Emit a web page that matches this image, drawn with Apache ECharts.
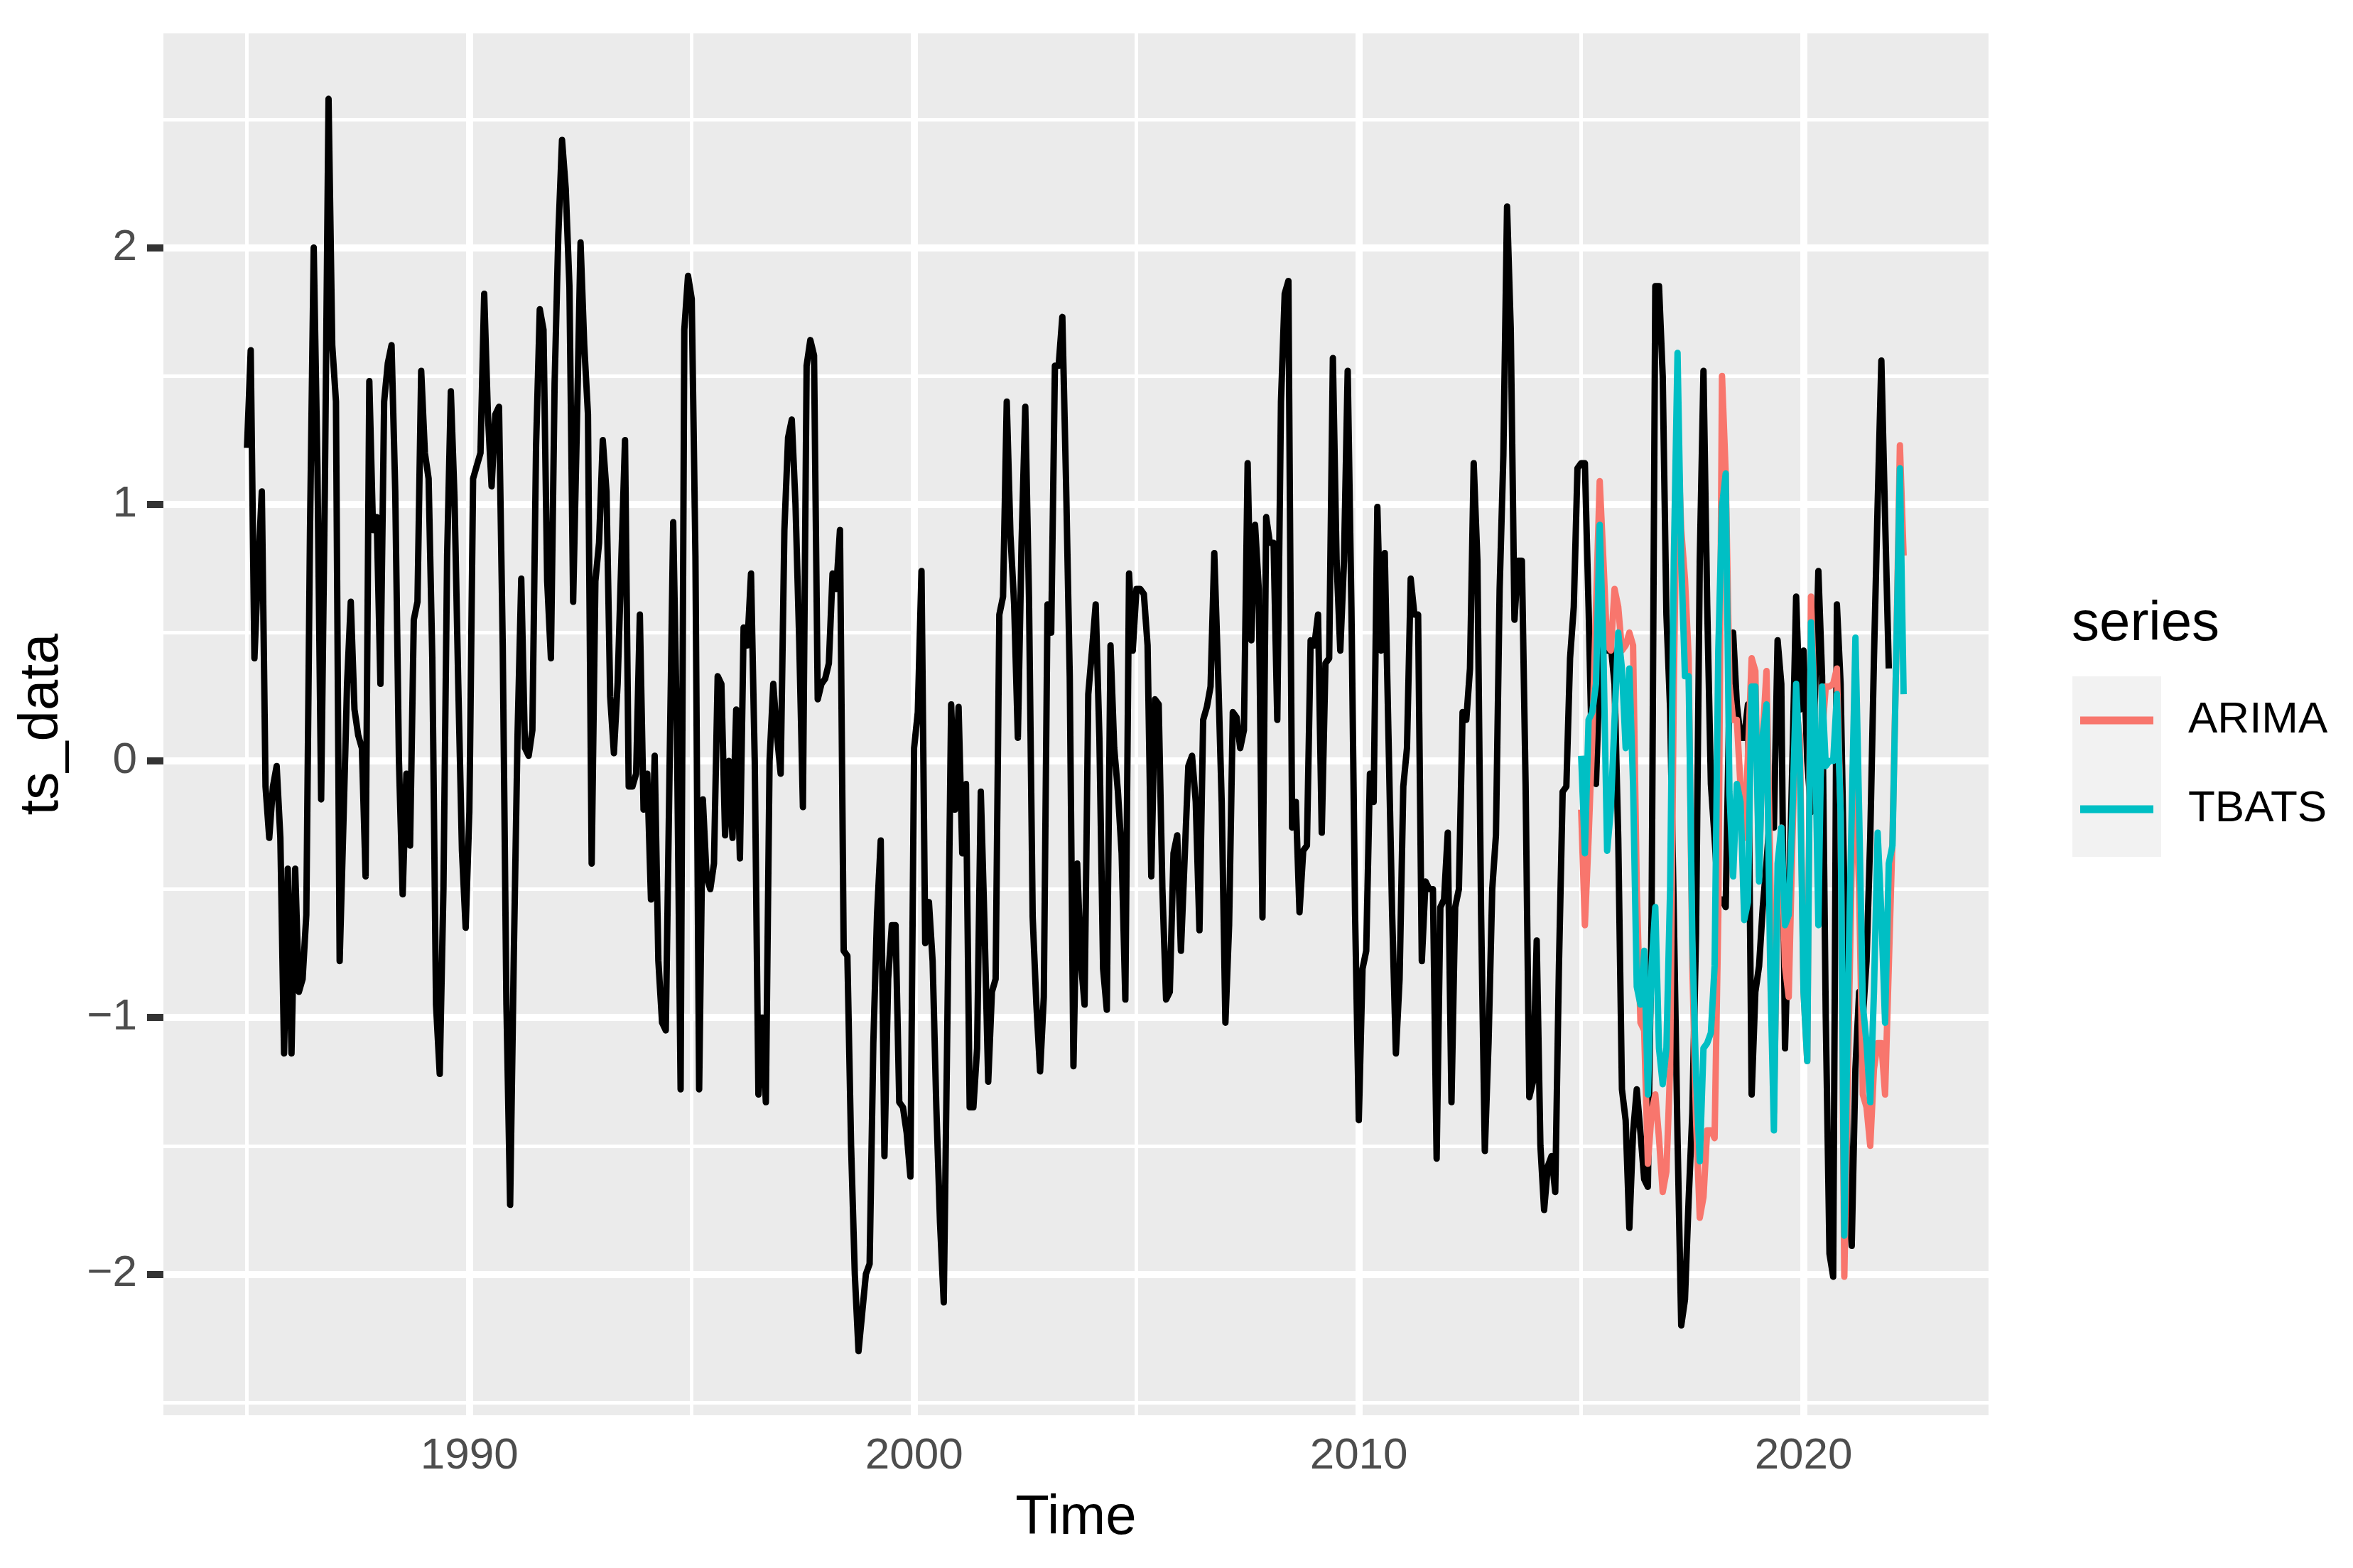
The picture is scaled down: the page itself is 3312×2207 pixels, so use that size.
<!DOCTYPE html>
<html><head><meta charset="utf-8">
<script src="https://cdn.jsdelivr.net/npm/echarts@6/dist/echarts.min.js"></script>
<style>html,body{margin:0;padding:0;background:#fff}#c{width:3312px;height:2207px}</style>
</head><body><div id="c"></div><script>
// Observed series (monthly), by 5-year block
const obs1985 = [1.22,1.60,0.40,0.75,1.05,-0.10,-0.30,-0.10,-0.02,-0.30,-1.14,-0.42,-1.14,-0.42,-0.90,-0.85,-0.60,0.90,2.00,1.15,-0.15,1.05,2.58,1.62,1.40,-0.78,-0.25,0.30,0.62,0.20,0.10,0.05,-0.45,1.48,0.90,0.95,0.30,1.40,1.55,1.62,1.05,0.00,-0.52,-0.05,-0.33,0.55,0.62,1.52,1.20,1.10,0.40,-0.95,-1.22,-0.50,0.80,1.44,1.02,0.30,-0.35,-0.65];
const obs1990 = [-0.20,1.10,1.15,1.20,1.82,1.35,1.07,1.35,1.38,0.45,-0.95,-1.73,-0.75,0.10,0.71,0.05,0.02,0.12,1.23,1.76,1.68,0.70,0.40,1.47,2.05,2.42,2.23,1.85,0.62,1.30,2.02,1.62,1.35,-0.40,0.70,0.85,1.25,1.05,0.25,0.03,0.30,0.78,1.25,-0.10,-0.10,-0.05,0.57,-0.19,-0.05,-0.54,0.02,-0.78,-1.02,-1.05,-0.05,0.93,0.12,-1.28,1.68,1.89];
const obs1995 = [1.80,0.80,-1.28,-0.15,-0.45,-0.50,-0.40,0.33,0.30,-0.29,0.00,-0.30,0.20,-0.38,0.52,0.45,0.73,0.00,-1.30,-1.00,-1.33,0.00,0.30,0.10,-0.05,0.90,1.26,1.33,1.00,0.47,-0.18,1.54,1.64,1.58,0.24,0.30,0.32,0.38,0.73,0.67,0.90,-0.74,-0.76,-1.50,-2.00,-2.30,-2.15,-2.00,-1.96,-1.10,-0.60,-0.31,-1.54,-0.85,-0.64,-0.64,-1.33,-1.35,-1.45,-1.62];
const obs2000 = [0.05,0.19,0.74,-0.71,-0.55,-0.78,-1.35,-1.80,-2.11,-1.00,0.22,-0.19,0.21,-0.36,-0.09,-1.35,-1.35,-1.12,-0.12,-0.64,-1.25,-0.90,-0.85,0.57,0.64,1.40,0.88,0.61,0.09,0.85,1.38,0.64,-0.61,-0.95,-1.21,-0.92,0.61,0.50,1.54,1.54,1.73,1.09,0.33,-1.19,-0.40,-0.78,-0.95,0.26,0.43,0.61,0.09,-0.81,-0.97,0.45,0.05,-0.12,-0.36,-0.93,0.73,0.43];
const obs2005 = [0.67,0.67,0.65,0.45,-0.45,0.24,0.22,-0.50,-0.93,-0.90,-0.36,-0.29,-0.74,-0.38,-0.02,0.02,-0.16,-0.66,0.16,0.21,0.29,0.81,0.36,-0.16,-1.02,-0.64,0.19,0.17,0.05,0.12,1.16,0.47,0.92,0.67,-0.61,0.95,0.85,0.85,0.16,1.40,1.82,1.87,-0.26,-0.16,-0.59,-0.35,-0.33,0.47,0.45,0.57,-0.28,0.38,0.40,1.57,0.78,0.43,0.78,1.52,0.60,-0.60];
const obs2010 = [-1.40,-0.81,-0.74,-0.05,-0.16,0.99,0.43,0.81,0.10,-0.60,-1.14,-0.85,-0.10,0.05,0.71,0.57,0.57,-0.78,-0.47,-0.50,-0.50,-1.55,-0.57,-0.54,-0.28,-1.33,-0.57,-0.50,0.19,0.16,0.36,1.16,0.78,-0.60,-1.52,-1.10,-0.50,-0.29,0.67,1.19,2.16,1.68,0.55,0.78,0.78,-0.09,-1.31,-1.25,-0.70,-1.50,-1.75,-1.58,-1.54,-1.68,-0.80,-0.12,-0.10,0.40,0.60,1.14];
const obs2015 = [1.16,1.16,0.60,-0.05,-0.09,0.36,0.45,0.43,0.45,0.30,-0.30,-1.28,-1.40,-1.82,-1.45,-1.28,-1.45,-1.63,-1.66,-0.61,1.85,1.85,1.50,0.57,0.20,-0.60,-1.47,-2.20,-2.10,-1.71,-1.37,-0.67,0.78,1.52,0.61,-0.09,-0.30,-0.54,-0.54,-0.57,0.26,0.50,0.22,0.09,0.09,0.22,-1.30,-0.90];
const obs2019 = [-0.80,-0.57,-0.40,-0.20,-0.26,0.47,0.30,-1.12,-0.60,0.00,0.64,0.20,0.43,0.00,-0.20,0.20,0.74,0.33,-1.00,-1.92,-2.01,0.61,0.30,-0.50,-1.71,-1.89,-1.20,-0.90,-1.00,-0.78,-0.30,0.40,1.00,1.56,0.95,0.36];
// Forecast series (monthly from 2015 Jan)
const arima2015 = [-0.19,-0.64,-0.30,0.09,0.60,1.09,0.78,0.45,0.43,0.67,0.60,0.43,0.45,0.50,0.45,-0.50,-1.02,-1.05,-1.57,-1.37,-1.30,-1.47,-1.68,-1.60,-1.20,0.30,1.30,0.90,0.71,0.40,-0.80,-1.40,-1.78,-1.70,-1.44,-1.44,-1.47,-0.60,1.50,1.12,0.30,0.16,0.16,-0.10,-0.30,0.02,0.40,0.35];
const arima2019 = [-0.45,0.10,0.35,-0.40,-1.37,-0.50,-0.26,-0.80,-0.92,-0.30,0.20,0.10,-0.90,-1.17,0.64,0.20,-0.30,0.10,0.29,0.29,0.30,0.36,-0.20,-2.01,-1.20,-0.40,-0.10,-0.50,-1.30,-1.35,-1.50,-1.20,-1.10,-1.10,-1.30,-0.80,-0.30,0.40,1.23,0.80];
const tbats2015 = [0.02,-0.36,0.16,0.19,0.30,0.92,0.43,-0.35,-0.19,0.16,0.50,0.36,0.05,0.36,-0.09,-0.88,-0.95,-0.74,-1.30,-0.80,-0.57,-1.12,-1.26,-1.12,-0.50,0.78,1.59,0.78,0.33,0.33,-0.70,-1.23,-1.56,-1.12,-1.10,-1.06,-0.80,0.43,0.99,1.12,-0.12,-0.45,-0.09,-0.16,-0.62,-0.55,0.29,0.29];
const tbats2019 = [-0.47,0.10,0.22,-0.80,-1.44,-0.40,-0.26,-0.64,-0.60,-0.20,0.30,0.00,-0.90,-1.17,0.54,0.20,-0.64,0.29,-0.02,0.00,0.00,0.26,-0.20,-1.85,-0.90,-0.20,0.48,-0.20,-0.95,-1.10,-1.33,-0.90,-0.28,-0.60,-1.02,-0.40,-0.33,0.40,1.14,0.26];

const obsStart = 1985;
const fcStart = 2015;
const seriesNames = ['ARIMA', 'TBATS'];
const xTicks = [1990, 2000, 2010, 2020];
const xMinor = [1985, 1995, 2005, 2015];
const yTicks = [-2, -1, 0, 1, 2];
const yMinor = [-2.5, -1.5, -0.5, 0.5, 1.5, 2.5];

const observed = [].concat(obs1985, obs1990, obs1995, obs2000, obs2005, obs2010, obs2015, obs2019);
const arima = [].concat(arima2015, arima2019);
const tbats = [].concat(tbats2015, tbats2019);
function monthly(start, vals) { return vals.map((v, i) => [start + i / 12, v]); }

const FONT = 'Liberation Sans, Arial, sans-serif';
const chart = echarts.init(document.getElementById('c'), null, {renderer: 'canvas'});
const gridLines = [];
xMinor.forEach(v => gridLines.push({xAxis: v, lineStyle: {width: 5}}));
yMinor.forEach(v => gridLines.push({yAxis: v, lineStyle: {width: 5}}));
xTicks.forEach(v => gridLines.push({xAxis: v, lineStyle: {width: 10}}));
yTicks.forEach(v => gridLines.push({yAxis: v, lineStyle: {width: 10}}));

chart.setOption({
  animation: false,
  backgroundColor: '#ffffff',
  textStyle: {fontFamily: FONT},
  title: {
    text: 'series', left: 2916, top: 840, padding: 0,
    textStyle: {fontSize: 78, fontWeight: 'normal', color: '#000', lineHeight: 78, fontFamily: FONT}
  },
  graphic: [{
    type: 'rect', left: 2917, top: 952, z: 1,
    shape: {width: 125, height: 254}, style: {fill: '#F2F2F2'}
  }],
  legend: {
    data: seriesNames, orient: 'vertical', left: 2928, top: 983, padding: 0,
    itemGap: 63, itemWidth: 103, itemHeight: 11, icon: 'rect',
    textStyle: {fontSize: 62, color: '#000', lineHeight: 62, padding: [0, 0, 0, 44], fontFamily: FONT}
  },
  grid: {
    left: 230, right: 513, top: 47, bottom: 215,
    show: true, backgroundColor: '#EBEBEB', borderWidth: 0
  },
  xAxis: {
    type: 'value', min: 1983.12, max: 2024.16,
    name: 'Time', nameLocation: 'middle', nameGap: 106,
    nameTextStyle: {fontSize: 78, color: '#000', lineHeight: 78, fontFamily: FONT},
    axisLine: {show: false},
    axisTick: {show: true, customValues: xTicks, length: 23, lineStyle: {color: '#333333', width: 10}},
    axisLabel: {customValues: xTicks, fontSize: 62, color: '#4D4D4D', margin: 27, lineHeight: 62, fontFamily: FONT,
      formatter: v => String(v)},
    splitLine: {show: false}
  },
  yAxis: {
    type: 'value', min: -2.55, max: 2.835,
    name: 'ts_data', nameLocation: 'middle', nameGap: 132,
    nameTextStyle: {fontSize: 78, color: '#000', lineHeight: 78, fontFamily: FONT},
    axisLine: {show: false},
    axisTick: {show: true, customValues: yTicks, length: 23, lineStyle: {color: '#333333', width: 10}},
    axisLabel: {
      customValues: yTicks, fontSize: 62, color: '#4D4D4D', margin: 37, fontFamily: FONT,
      formatter: v => (v < 0 ? '\u2212' + Math.abs(v) : String(v))
    },
    splitLine: {show: false}
  },
  series: [
    {
      name: 'grid', type: 'line', data: [], z: 1, silent: true,
      markLine: {silent: true, z: 1, symbol: 'none', label: {show: false}, animation: false,
        lineStyle: {color: '#ffffff', type: 'solid'}, data: gridLines}
    },
    {
      name: 'ts_data', type: 'line', data: monthly(obsStart, observed), z: 2,
      showSymbol: false, symbol: 'none',
      lineStyle: {color: '#000000', width: 9, join: 'round'}, itemStyle: {color: '#000000'}
    },
    {
      name: seriesNames[0], type: 'line', data: monthly(fcStart, arima), z: 3,
      showSymbol: false, symbol: 'none',
      lineStyle: {color: '#F8766D', width: 9, join: 'round'}, itemStyle: {color: '#F8766D'}
    },
    {
      name: seriesNames[1], type: 'line', data: monthly(fcStart, tbats), z: 4,
      showSymbol: false, symbol: 'none',
      lineStyle: {color: '#00BFC4', width: 9, join: 'round'}, itemStyle: {color: '#00BFC4'}
    }
  ]
});
</script></body></html>
